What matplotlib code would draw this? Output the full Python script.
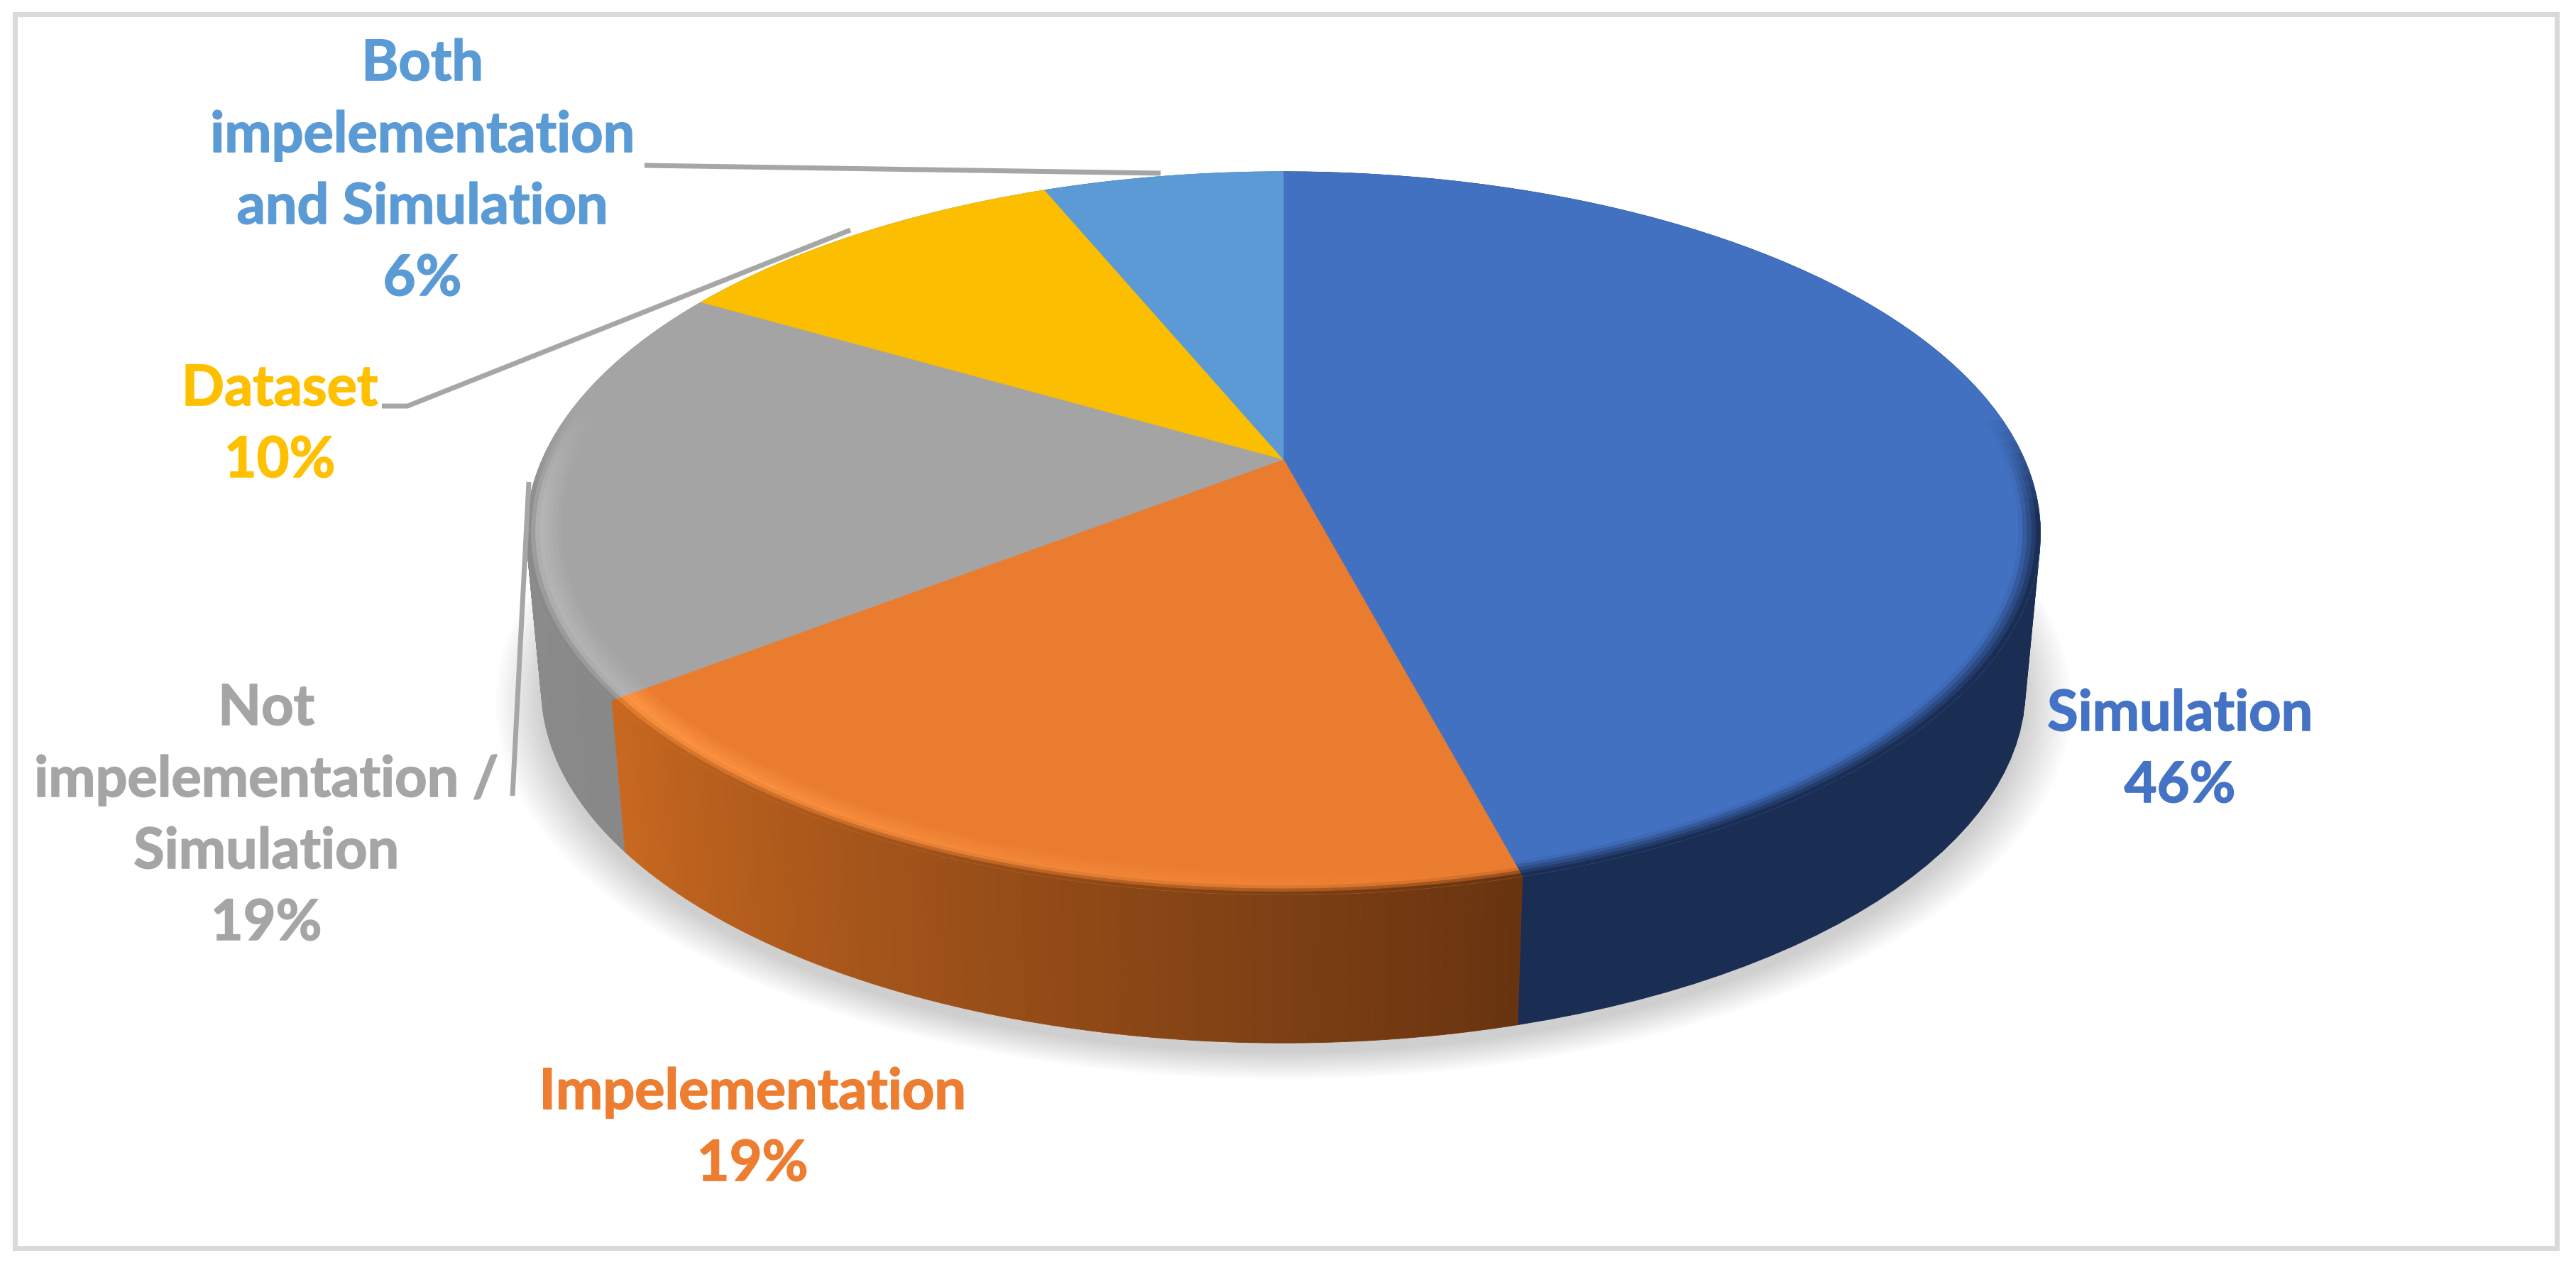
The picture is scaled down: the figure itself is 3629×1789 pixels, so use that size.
import numpy as np
import matplotlib
matplotlib.use("Agg")
import matplotlib.pyplot as plt
import matplotlib.patheffects as pe
from matplotlib.collections import PolyCollection
from matplotlib.colors import to_rgb
from matplotlib.patches import Polygon, Rectangle

# slices, clockwise from 12 o'clock
categories = ["Simulation", "Impelementation", "Not impelementation / Simulation",
              "Dataset", "Both impelementation and Simulation"]
values = [22, 9, 9, 5, 3]  # counts that fit the slice angles and the % labels
top_colors = ["#4271c1", "#ea7c30", "#a4a4a4", "#fbbe00", "#5b9ad5"]
text_colors = ["#4472c4", "#ed7d31", "#a5a5a5", "#ffc000", "#5b9bd5"]
side_left = ["#1a2d52", "#c86820", "#8e8e8e", "#8e8e8e", "#3c6a96"]
side_right = ["#1a2d52", "#683410", "#888888", "#a08000", "#3c6a96"]
glow_left = [None, "#ff9644", "#bcbcbc", None, None]
glow_right = [None, "#ea7c30", "#b4b4b4", None, None]

label_lines = [["Simulation"],
               ["Impelementation"],
               ["Not", "impelementation /", "Simulation"],
               ["Dataset"],
               ["Both", "impelementation", "and Simulation"]]
label_x = [3071, 1060, 375, 394, 595]
label_y = [1030, 1563, 1022, 572, 114]

leaders = [([908, 1635], [234, 245]),
           ([538, 574, 1198], [573, 573, 325]),
           ([722, 745], [1122, 680])]

# pie geometry, in pixels of the picture
cx, cy = 1808, 648
a, b, k = 1044, 488, 0.2045
depth = 221
taper = 0.98
LINE = 101


def project(theta, r=1.0):
    X = r * np.sin(theta)
    Y = r * np.cos(theta)
    w = 1 + k * Y
    return cx + a * X / w, cy - b * Y / w


def project_bottom(theta):
    x, y = project(theta)
    return cx + taper * (x - cx), cy + depth + taper * (y - cy)


def mix(c1, c2, t):
    return tuple((1 - t) * np.array(to_rgb(c1)) + t * np.array(to_rgb(c2)))


fig = plt.figure(figsize=(36.29, 17.90), facecolor="white")
ax = fig.add_axes([0, 0, 1, 1])
ax.set_xlim(0, 3629)
ax.set_ylim(1790, 0)
ax.axis("off")

# frame
ax.add_patch(Rectangle((21, 21), 3581, 1738, fill=False, ec="#d9d9d9", lw=5))

# soft shadow under the pie
ring = np.linspace(0, 2 * np.pi, 361)
for grow in np.linspace(62, 0, 16):
    sx, sy = project_bottom(ring)
    scale = 1 + grow / 1000
    pts = np.column_stack([cx + scale * (sx - cx), cy + depth + 14 + scale * (sy - cy - depth)])
    ax.add_patch(Polygon(pts, fc="black", ec="none", alpha=0.011, zorder=1))

edges = 2 * np.pi * np.concatenate([[0], np.cumsum(values)]) / sum(values)

# side wall, strips per slice
for i in [3, 4, 0, 2, 1]:
    th = np.linspace(edges[i], edges[i + 1], 80)
    x0, y0 = project(th)
    x1, y1 = project_bottom(th)
    polys = []
    cols = []
    for j in range(len(th) - 1):
        polys.append([(x0[j], y0[j]), (x0[j + 1], y0[j + 1]), (x1[j + 1], y1[j + 1]), (x1[j], y1[j])])
        cols.append(mix(side_left[i], side_right[i], 1 - j / (len(th) - 2)))
    ax.add_collection(PolyCollection(polys, facecolors=cols, edgecolors=cols, linewidths=0.6, zorder=2))

# top face
for i in range(len(values)):
    th = np.linspace(edges[i], edges[i + 1], 200)
    x, y = project(th)
    pts = np.column_stack([np.r_[cx, x], np.r_[cy, y]])
    ax.add_patch(Polygon(pts, fc=top_colors[i], ec=top_colors[i], lw=0.6, zorder=3))

# rounded rim on the front half
radii = np.linspace(0.95, 1.0, 10)
for i in range(len(values)):
    th = np.linspace(edges[i], edges[i + 1], 90)
    polys = []
    cols = []
    for j in range(len(th) - 1):
        t_j = 1 - j / (len(th) - 2)
        front = np.clip((0.15 - np.cos(th[j])) / 0.3, 0, 1)
        if front <= 0:
            continue
        side_c = mix(side_left[i], side_right[i], t_j)
        glow = None
        if glow_left[i]:
            glow = mix(glow_left[i], glow_right[i], t_j)
        for m in range(len(radii) - 1):
            u = m / (len(radii) - 2)
            if glow is None:
                c = mix(top_colors[i], side_c, np.clip((u - 0.45) / 0.55, 0, 1))
            elif u < 0.7:
                c = mix(top_colors[i], glow, u / 0.7)
            else:
                c = mix(glow, side_c, (u - 0.7) / 0.3)
            c = mix(top_colors[i], c, front)
            xa, ya = project(th[j:j + 2], radii[m])
            xb, yb = project(th[j:j + 2], radii[m + 1])
            polys.append([(xa[0], ya[0]), (xa[1], ya[1]), (xb[1], yb[1]), (xb[0], yb[0])])
            cols.append(c)
    if polys:
        ax.add_collection(PolyCollection(polys, facecolors=cols, edgecolors=cols, linewidths=0.4, zorder=4))

# leader lines
for lx, ly in leaders:
    ax.plot(lx, ly, color="#a6a6a6", lw=5, solid_joinstyle="miter", solid_capstyle="butt", zorder=5)

# labels
total = sum(values)
for i in range(len(values)):
    lines = label_lines[i] + [f"{round(100 * values[i] / total)}%"]
    for n, line in enumerate(lines):
        ax.text(label_x[i], label_y[i] + n * LINE, line, color=text_colors[i], fontsize=57,
                family="Lato", weight="bold", ha="center", va="baseline", zorder=6,
                path_effects=[pe.withStroke(linewidth=1.2, foreground=text_colors[i])])

fig.savefig("out.png", dpi=100)
